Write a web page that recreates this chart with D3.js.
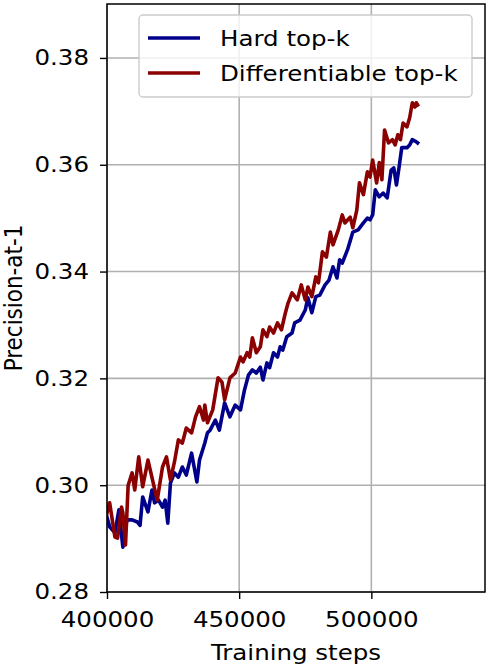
<!DOCTYPE html>
<html>
<head>
<meta charset="utf-8">
<script src="https://cdn.jsdelivr.net/npm/d3@7"></script>
<style>
  html, body { margin: 0; padding: 0; background: #fff; }
  text { font-family: "DejaVu Sans", sans-serif; fill: #000; }
</style>
</head>
<body>
<svg id="chart" width="489" height="669"></svg>
<script>
// Hard top-k series
const hardSteps = [400000, 401000, 403000, 404500, 406000, 407500, 409500, 411500, 412500, 413500,
  415500, 417000, 418000, 419500, 421000, 422000, 423000, 424000, 425500, 427000,
  428500, 430000, 432000, 434000, 435000, 437000, 438000, 439000, 441000, 442500,
  444500, 446500, 448500, 450500, 452000, 453500, 455000, 456500, 458000, 459000,
  460500, 461500, 463000, 464500, 465500, 466500, 468000, 470000, 471000, 473000,
  475000, 476000, 477500, 479000, 480500, 482500, 484000, 485500, 487000, 488000,
  489000, 491000, 493000, 495000, 497000, 498500, 499500, 500500, 501500, 503000,
  504500, 506000, 507500, 508500, 509500, 510500, 511500, 513500, 514500, 515500,
  517000, 517500];
const hardValues = [0.2940, 0.2922, 0.2911, 0.2954, 0.2884, 0.2935, 0.2935, 0.2931, 0.2925, 0.2978,
  0.2950, 0.2991, 0.2967, 0.2972, 0.2959, 0.2972, 0.2929, 0.3004, 0.3023, 0.3015,
  0.3034, 0.3019, 0.3060, 0.3006, 0.3047, 0.3079, 0.3098, 0.3103, 0.3122, 0.3103,
  0.3154, 0.3128, 0.3150, 0.3141, 0.3178, 0.3206, 0.3216, 0.3210, 0.3221, 0.3197,
  0.3229, 0.3220, 0.3248, 0.3240, 0.3259, 0.3253, 0.3278, 0.3285, 0.3304, 0.3309,
  0.3328, 0.3351, 0.3323, 0.3353, 0.3356, 0.3375, 0.3384, 0.3409, 0.3388, 0.3422,
  0.3416, 0.3441, 0.3474, 0.3478, 0.3491, 0.3500, 0.3497, 0.3506, 0.3553, 0.3540,
  0.3547, 0.3538, 0.3590, 0.3594, 0.3562, 0.3596, 0.3632, 0.3632, 0.3637, 0.3647,
  0.3643, 0.3641];

// Differentiable top-k series
const diffSteps = [400000, 401000, 403000, 404000, 405500, 406000, 407000, 408000, 409500, 410500,
  412000, 413500, 415500, 417500, 419000, 421000, 422500, 424000, 425500, 427000,
  428500, 430000, 432000, 433500, 435000, 436500, 437000, 438000, 440000, 442000,
  443500, 444500, 446500, 448500, 450500, 451500, 453000, 454000, 455000, 456500,
  458000, 459000, 460500, 461500, 463000, 464500, 466000, 467500, 468500, 470000,
  472000, 473500, 475000, 476000, 477500, 479000, 480000, 481500, 483000, 484500,
  485500, 487500, 489000, 490000, 492000, 493000, 494500, 495500, 497000, 498500,
  499500, 500500, 502000, 503000, 504000, 505000, 506500, 508000, 509000, 510000,
  511000, 512000, 513500, 514500, 515500, 516500, 517000, 517500];
const diffValues = [0.2948, 0.2967, 0.2903, 0.2901, 0.2959, 0.2948, 0.2888, 0.3000, 0.3023, 0.2991,
  0.3053, 0.2997, 0.3047, 0.3004, 0.2972, 0.3034, 0.3053, 0.3010, 0.3043, 0.3085,
  0.3079, 0.3107, 0.3098, 0.3128, 0.3147, 0.3122, 0.3150, 0.3117, 0.3141, 0.3201,
  0.3193, 0.3160, 0.3201, 0.3210, 0.3240, 0.3231, 0.3248, 0.3240, 0.3276, 0.3248,
  0.3259, 0.3291, 0.3278, 0.3296, 0.3285, 0.3304, 0.3291, 0.3323, 0.3341, 0.3360,
  0.3347, 0.3375, 0.3347, 0.3371, 0.3353, 0.3390, 0.3379, 0.3437, 0.3427, 0.3474,
  0.3450, 0.3478, 0.3506, 0.3491, 0.3502, 0.3482, 0.3515, 0.3566, 0.3544, 0.3587,
  0.3577, 0.3609, 0.3566, 0.3604, 0.3572, 0.3665, 0.3641, 0.3647, 0.3637, 0.3656,
  0.3647, 0.3678, 0.3671, 0.3688, 0.3716, 0.3708, 0.3716, 0.3712];

const seriesNames = ["Hard top-k", "Differentiable top-k"];
const seriesColors = ["#00008b", "#8b0000"];
const xTicks = [400000, 450000, 500000];
const yTicks = [0.28, 0.30, 0.32, 0.34, 0.36, 0.38];
const xDomain = [400000, 543000];
const yDomain = [0.28, 0.3901];

// the reference text is a bit wider than it is tall
const fontSize = 21.5;
const stretch = 1.14;

const svg = d3.select("#chart");
const margin = { left: 107, right: 4, top: 4, bottom: 77 };
const width = +svg.attr("width");
const height = +svg.attr("height");
const innerW = width - margin.left - margin.right;
const innerH = height - margin.top - margin.bottom;

const x = d3.scaleLinear().domain(xDomain).range([0, innerW]);
const y = d3.scaleLinear().domain(yDomain).range([innerH, 0]);

const g = svg.append("g").attr("transform", `translate(${margin.left},${margin.top})`);

// Grid lines
g.append("g")
  .selectAll("line")
  .data(xTicks)
  .enter()
  .append("line")
  .attr("x1", (d) => x(d))
  .attr("x2", (d) => x(d))
  .attr("y1", 0)
  .attr("y2", innerH)
  .attr("stroke", "#b0b0b0")
  .attr("stroke-width", 1.6);

g.append("g")
  .selectAll("line")
  .data(yTicks)
  .enter()
  .append("line")
  .attr("x1", 0)
  .attr("x2", innerW)
  .attr("y1", (d) => y(d))
  .attr("y2", (d) => y(d))
  .attr("stroke", "#b0b0b0")
  .attr("stroke-width", 1.6);

// Data lines
const line = d3
  .line()
  .x((d) => x(d[0]))
  .y((d) => y(d[1]));

const series = [
  d3.zip(hardSteps, hardValues),
  d3.zip(diffSteps, diffValues),
];

g.append("defs")
  .append("clipPath")
  .attr("id", "clip")
  .append("rect")
  .attr("width", innerW)
  .attr("height", innerH);

g.append("g")
  .attr("clip-path", "url(#clip)")
  .selectAll("path")
  .data(series)
  .enter()
  .append("path")
  .attr("d", line)
  .attr("fill", "none")
  .attr("stroke", (d, i) => seriesColors[i])
  .attr("stroke-width", 3.6)
  .attr("stroke-linejoin", "round")
  .attr("stroke-linecap", "square");

// Axes
const xAxis = d3.axisBottom(x).tickValues(xTicks).tickFormat(d3.format("d")).tickSize(7).tickPadding(13);
const yAxis = d3.axisLeft(y).tickValues(yTicks).tickFormat(d3.format(".2f")).tickSize(7).tickPadding(11);

const gx = g.append("g").attr("transform", `translate(0,${innerH})`).call(xAxis);
const gy = g.append("g").call(yAxis);

[gx, gy].forEach((ax) => {
  ax.select(".domain").remove();
  ax.selectAll(".tick line").attr("stroke", "#000").attr("stroke-width", 1.4);
  ax.selectAll(".tick text")
    .attr("font-size", fontSize)
    .attr("font-family", "DejaVu Sans")
    .attr("fill", "#000");
});

// widen tick labels around their anchor point
gx.selectAll(".tick text").attr("transform", `scale(${stretch},1)`);
gy.selectAll(".tick text").each(function () {
  const t = d3.select(this);
  const tx = +t.attr("x");
  t.attr("x", 0).attr("transform", `translate(${tx},0) scale(${stretch},1)`);
});

// Frame
g.append("rect")
  .attr("width", innerW)
  .attr("height", innerH)
  .attr("fill", "none")
  .attr("stroke", "#000")
  .attr("stroke-width", 1.5);

// Axis titles
svg.append("text")
  .attr("transform", `translate(${margin.left + innerW / 2},660) scale(${stretch},1)`)
  .attr("text-anchor", "middle")
  .attr("font-size", fontSize)
  .text("Training steps");

svg.append("text")
  .attr("transform", `translate(22,${margin.top + innerH / 2}) scale(${stretch},1) rotate(-90)`)
  .attr("text-anchor", "middle")
  .attr("font-size", fontSize)
  .text("Precision-at-1");

// Legend
const legend = svg.append("g").attr("transform", "translate(139,15)");
legend.append("rect")
  .attr("width", 333)
  .attr("height", 82)
  .attr("rx", 4)
  .attr("fill", "#fff")
  .attr("fill-opacity", 0.8)
  .attr("stroke", "#cccccc")
  .attr("stroke-width", 1.4);

seriesNames.forEach((name, i) => {
  const ly = 23 + i * 35;
  legend.append("line")
    .attr("x1", 9)
    .attr("x2", 61)
    .attr("y1", ly)
    .attr("y2", ly)
    .attr("stroke", seriesColors[i])
    .attr("stroke-width", 3.6);
  legend.append("text")
    .attr("transform", `translate(81,${ly + 8}) scale(${stretch},1)`)
    .attr("font-size", fontSize)
    .text(name);
});
</script>
</body>
</html>
